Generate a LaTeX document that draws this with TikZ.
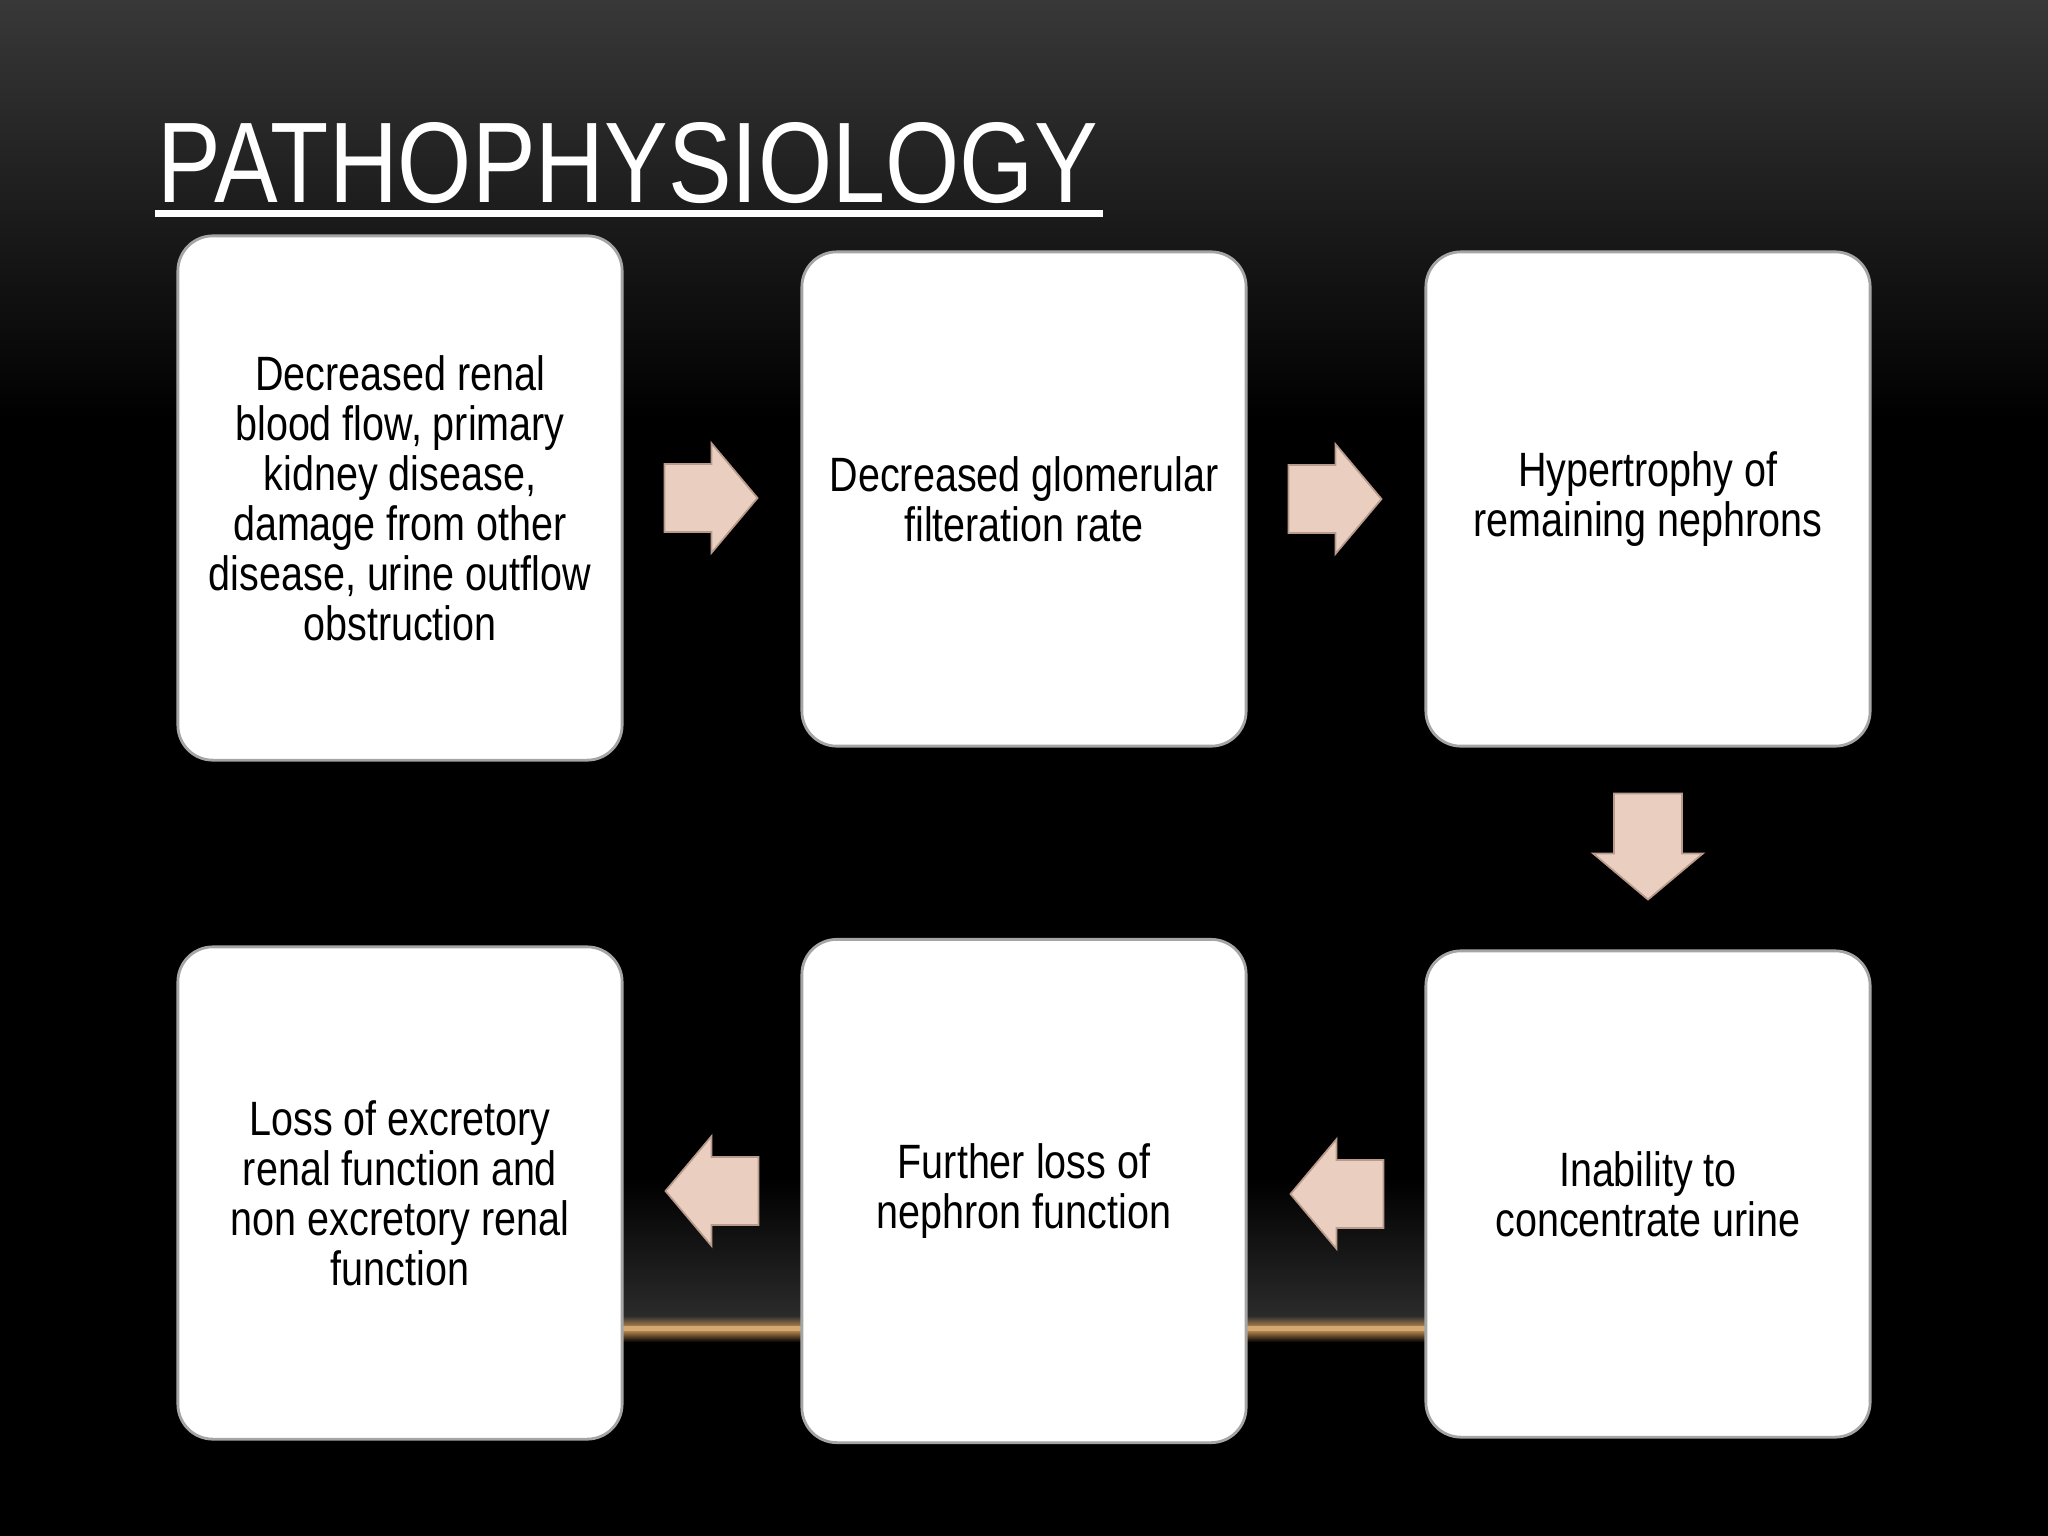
\documentclass[tikz,border=0pt]{standalone}
\usepackage{fontspec}
\setmainfont[FakeStretch=0.82]{Liberation Sans}
\newfontfamily\titlefont[FakeStretch=0.832]{Liberation Sans}
\usepackage{tikz}
\usetikzlibrary{shapes.arrows,calc}
\definecolor{bgTop}{RGB}{56,56,56}
\definecolor{glowGray}{RGB}{44,44,44}
\definecolor{streakGold}{RGB}{205,152,88}
\definecolor{arrowPeach}{RGB}{234,207,192}
\definecolor{arrowEdge}{RGB}{185,155,140}
\definecolor{boxEdge}{RGB}{165,165,165}
\tikzset{
  stage/.style={draw=boxEdge,line width=0.8pt,fill=white,rounded corners=0.35cm,
                minimum width=4.44cm,minimum height=4.94cm,inner sep=0pt,
                align=center,font=\fontsize{13.7}{14.2}\selectfont},
  flowarr/.style={single arrow,draw=arrowEdge,fill=arrowPeach,line width=0.5pt,
                  inner xsep=0pt,inner ysep=0.33cm,minimum height=0.93cm,anchor=tail,
                  single arrow head extend=0.21cm,single arrow tip angle=100},
  downarr/.style={flowarr,shape border rotate=270,inner xsep=0.33cm,inner ysep=0pt,
                  minimum height=1.06cm},
}

\begin{document}
\begin{tikzpicture}[x=0.01cm,y=-0.01cm]
  \useasboundingbox (0,0) rectangle (2048,1536);
  % backdrop
  \fill[black] (0,0) rectangle (2048,1536);
  \shade[top color=bgTop,bottom color=black] (0,0) rectangle (2048,420);
  \shade[top color=black,bottom color=glowGray] (480,1180) rectangle (1560,1320);
  \shade[top color=glowGray,bottom color=black,middle color=streakGold] (480,1316) rectangle (1560,1342);
  \fill[streakGold!85!white] (480,1326) rectangle (1560,1331);
  % title
  \node[anchor=base west,inner sep=0pt,text=white,font=\titlefont\fontsize{32.6}{34}\selectfont]
    (ttl) at (157,202) {PATHOPHYSIOLOGY};
  \draw[white,line width=0.07cm] ([xshift=-0.02cm,yshift=-0.11cm]ttl.base west)
    -- ([xshift=0.05cm,yshift=-0.11cm]ttl.base east);
  % stages
  \node[stage,minimum height=5.24cm] (s1) at (400,498)
    {Decreased renal\\blood flow, primary\\kidney disease,\\damage from other\\disease, urine outflow\\obstruction};
  \node[stage] (s2) at (1024,499) {Decreased glomerular\\filteration rate};
  \node[stage] (s3) at (1648,499) {Hypertrophy of\\remaining nephrons};
  \node[stage,minimum height=4.86cm] (s4) at (1648,1194) {Inability to\\concentrate urine};
  \node[stage,minimum height=5.03cm] (s5) at (1024,1191) {Further loss of\\nephron function};
  \node[stage,minimum height=4.92cm] (s6) at (400,1193)
    {Loss of excretory\\renal function and\\non excretory renal\\function};
  % arrows
  \node[flowarr] (a1) at ([xshift=0.4cm]s1.east) {};
  \node[flowarr] (a2) at ([xshift=0.4cm]s2.east) {};
  \node[downarr] (a3) at ([yshift=-0.45cm]s3.south) {};
  \node[flowarr,shape border rotate=180] (a4) at ([xshift=-0.4cm]s4.west) {};
  \node[flowarr,shape border rotate=180] (a5) at ([xshift=-0.41cm]s5.west) {};
\end{tikzpicture}
\end{document}
